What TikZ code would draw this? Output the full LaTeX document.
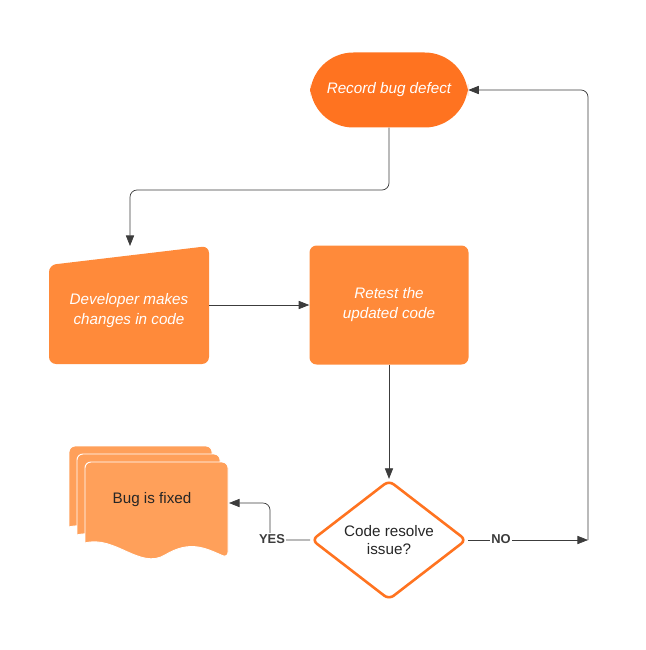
\documentclass[tikz,border=0pt]{standalone}
\usepackage{fontspec}
\setmainfont{Liberation Sans}
\usetikzlibrary{shapes.geometric,arrows.meta}
\definecolor{darkor}{RGB}{255,115,32}
\definecolor{midor}{RGB}{255,138,58}
\definecolor{lightor}{RGB}{255,160,90}
\definecolor{lineg}{RGB}{60,60,60}
\tikzset{
  txt/.style={font=\fontsize{13}{17}\selectfont\itshape, text=white, align=center},
  conn/.style={draw=lineg, line width=0.6pt, rounded corners=6pt},
  arr/.style={conn, -{Triangle[length=9pt,width=7pt]}},
  lbl/.style={font=\fontsize{11}{13}\selectfont\bfseries, text=lineg, fill=white, inner sep=1pt}
}
\begin{document}
\begin{tikzpicture}[x=0.03cm, y=-0.03cm]
\useasboundingbox (0,0) rectangle (645,650);

% Start
\node[fill=darkor, rounded corners=37pt, minimum width=158*0.03cm, minimum height=75*0.03cm, txt] (R) at (389,90) {Record bug defect};

% Manual input and process
\fill[midor, rounded corners=6pt] (49,265) -- (209,246) -- (209,364) -- (49,364) -- cycle;
\node[txt] (D) at (129,311) {Developer makes\\changes in code};
\coordinate (Dtop) at (130,246);
\coordinate (Dright) at (209,305);
\node[fill=midor, rounded corners=6pt, minimum width=159*0.03cm, minimum height=119*0.03cm, txt] (T) at (389,305) {Retest the\\updated code};

% Decision
\node[diamond, draw=darkor, line width=2.2pt, fill=white, minimum width=155*0.03cm, minimum height=115*0.03cm, inner sep=0pt, rounded corners=5pt, align=center, font=\fontsize{13}{16}\selectfont, text=black!85] (C) at (389,540) {Code resolve\\issue?};

% Document stack
\foreach \o in {16,8,0}
  \fill[lightor, draw=white, line width=0.8pt, rounded corners=5pt, shift={(-\o,-\o)}]
    (85,543) -- (85,462) -- (228,462) -- (228,558) [sharp corners]
    .. controls (205,548) and (190,540) .. (165,555)
    .. controls (140,570) and (115,535) .. (85,543);
\node[font=\fontsize{13}{16}\selectfont, text=black!85] (B) at (152,500) {Bug is fixed};
\coordinate (Bright) at (229,503);

% Connections
\draw[arr] (R.south) |- (260,190) -| (Dtop);
\draw[arr] (Dright) -- (T.west |- Dright);
\draw[arr] (T.south) -- (C.north);
\coordinate (Ncorner) at (588,540);
\draw[arr] (C.east) -- (Ncorner);
\draw[arr] (Ncorner) |- (R.east);
\draw[arr] (C.west) -| (270,503) -- (Bright);

% Labels
\node[lbl] at (272,539) {YES};
\node[lbl] at (501,539) {NO};
\end{tikzpicture}
\end{document}
